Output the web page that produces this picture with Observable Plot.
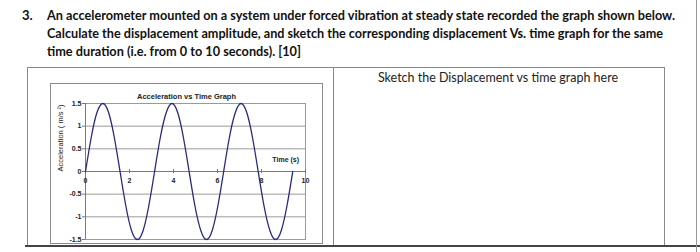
<!DOCTYPE html>
<html><head><meta charset="utf-8">
<script src="https://cdn.jsdelivr.net/npm/d3@7"></script>
<script src="https://cdn.jsdelivr.net/npm/@observablehq/plot@0.6"></script>
<style>
html,body{margin:0;padding:0;background:#fff;}
body{width:700px;height:252px;position:relative;overflow:hidden;font-family:Lato,"Noto Sans",sans-serif;}
.hl{position:absolute;font-weight:bold;font-size:13px;color:#111;white-space:nowrap;transform-origin:0 50%;line-height:16px;}
.tb{position:absolute;border-color:#777;border-style:solid;border-width:0;}
#chartbox{position:absolute;left:50px;top:83px;width:271px;height:159px;border:1px solid #8a8a8a;}
#chartbox svg{position:absolute;left:0;top:0;}
#sk{position:absolute;top:70px;left:333px;width:330px;text-align:center;font-size:12.5px;color:#222;font-family:Lato,"Noto Sans",sans-serif;}
</style></head>
<body>
<div class="hl" style="left:22px;top:7px;">3.</div>
<div class="hl" id="l1" data-w="628" style="left:47px;top:7px;">An accelerometer mounted on a system under forced vibration at steady state recorded the graph shown below.</div>
<div class="hl" id="l2" data-w="616" style="left:47px;top:25px;">Calculate the displacement amplitude, and sketch the corresponding displacement Vs. time graph for the same</div>
<div class="hl" id="l3" data-w="254" style="left:47px;top:43px;">time duration (i.e. from 0 to 10 seconds). [10]</div>
<div class="tb" style="left:27px;top:67px;width:636px;height:179px;border-width:1px 1px 0 1px;border-color:#888;"></div>
<div class="tb" style="left:333px;top:67px;width:0;height:179px;border-left-width:1px;border-color:#888;"></div>
<div class="tb" style="left:25px;top:245px;width:675px;height:0;border-top-width:2px;border-color:#444;"></div>
<div class="tb" style="left:696px;top:0;width:0;height:252px;border-left-width:1px;border-color:#999;"></div>
<div id="sk">Sketch the Displacement vs time graph here</div>
<div id="chartbox"></div>
<script>
const timeS = [0,0.26,0.52,0.79,1.05,1.31,1.57,1.83,2.09,2.36,2.62,2.88,3.14,3.40,3.67,3.93,4.19,4.45,4.71,4.97,5.24,5.50,5.76,6.02,6.28,6.54,6.81,7.07,7.33,7.59,7.85,8.11,8.38,8.64,8.90,9.16,9.42];
const accel = [0,0.75,1.30,1.5,1.30,0.75,0,-0.75,-1.30,-1.5,-1.30,-0.75,0,0.75,1.30,1.5,1.30,0.75,0,-0.75,-1.30,-1.5,-1.30,-0.75,0,0.75,1.30,1.5,1.30,0.75,0,-0.75,-1.30,-1.5,-1.30,-0.75,0];
const xTicks = [0,2,4,6,8,10];
const xTickLabels = ["0","2","4","6","8","10"];
const yTicks = [1.5,1,0.5,0,-0.5,-1,-1.5];
const yTickLabels = ["1.5","1","0.5","0","-0.5","-1","-1.5"];
const chartTitle = "Acceleration vs Time Graph";
const yLabel = "Acceleration ( m/s \u00B2)";
const xLabel = "Time (s)";

const data = timeS.map((t,i)=>({t, a: accel[i]}));
const F = "'Liberation Sans', Arial, sans-serif";

const chart = Plot.plot({
  width: 271, height: 159,
  marginLeft: 34, marginRight: 17, marginTop: 19, marginBottom: 4,
  x: {domain: [0,10], axis: null},
  y: {domain: [-1.5,1.5], axis: null},
  style: {fontFamily: F, fontSize: "7px", fontWeight: "bold", color: "#222", background: "transparent", overflow: "visible"},
  marks: [
    Plot.ruleY(yTicks.filter(d=>d!==0), {stroke: "#9a9a9a", strokeWidth: 1}),
    Plot.frame({stroke: "#9a9a9a"}),
    Plot.ruleX([0], {stroke: "#7a7a7a"}),
    Plot.ruleY([0], {stroke: "#7a7a7a"}),
    Plot.ruleX(xTicks, {x: d=>d, y1: 0, y2: 0, insetTop: -2, insetBottom: -2, stroke: "#777"}),
    Plot.text(xTicks, {x: d=>d, y: 0, text: (d,i)=>xTickLabels[i], dy: 9, fill: "#222"}),
    Plot.axisY(yTicks, {tickSize: 3, tickPadding: 1, tickFormat: (d,i)=>yTickLabels[i], stroke: "#777", fill: "#222", label: null}),
    Plot.line(data, {x: "t", y: "a", curve: "natural", stroke: "#2a2a7c", strokeWidth: 1.3}),
    Plot.text([chartTitle], {frameAnchor: "top", text: d=>d, dx: -9, dy: -10, fontSize: 7.5}),
    Plot.text([xLabel], {x: ()=>9.1, y: ()=>0, text: d=>d, dy: -12}),
    Plot.text([yLabel], {frameAnchor: "left", text: d=>d, rotate: -90, dx: -25, fontSize: 7.5, fontWeight: "normal"})
  ]
});
document.getElementById("chartbox").appendChild(chart);

document.querySelectorAll(".hl[data-w]").forEach(el=>{
  const w = el.getBoundingClientRect().width;
  const target = +el.dataset.w;
  el.style.transform = `scaleX(${target/w})`;
});
</script>
</body></html>
